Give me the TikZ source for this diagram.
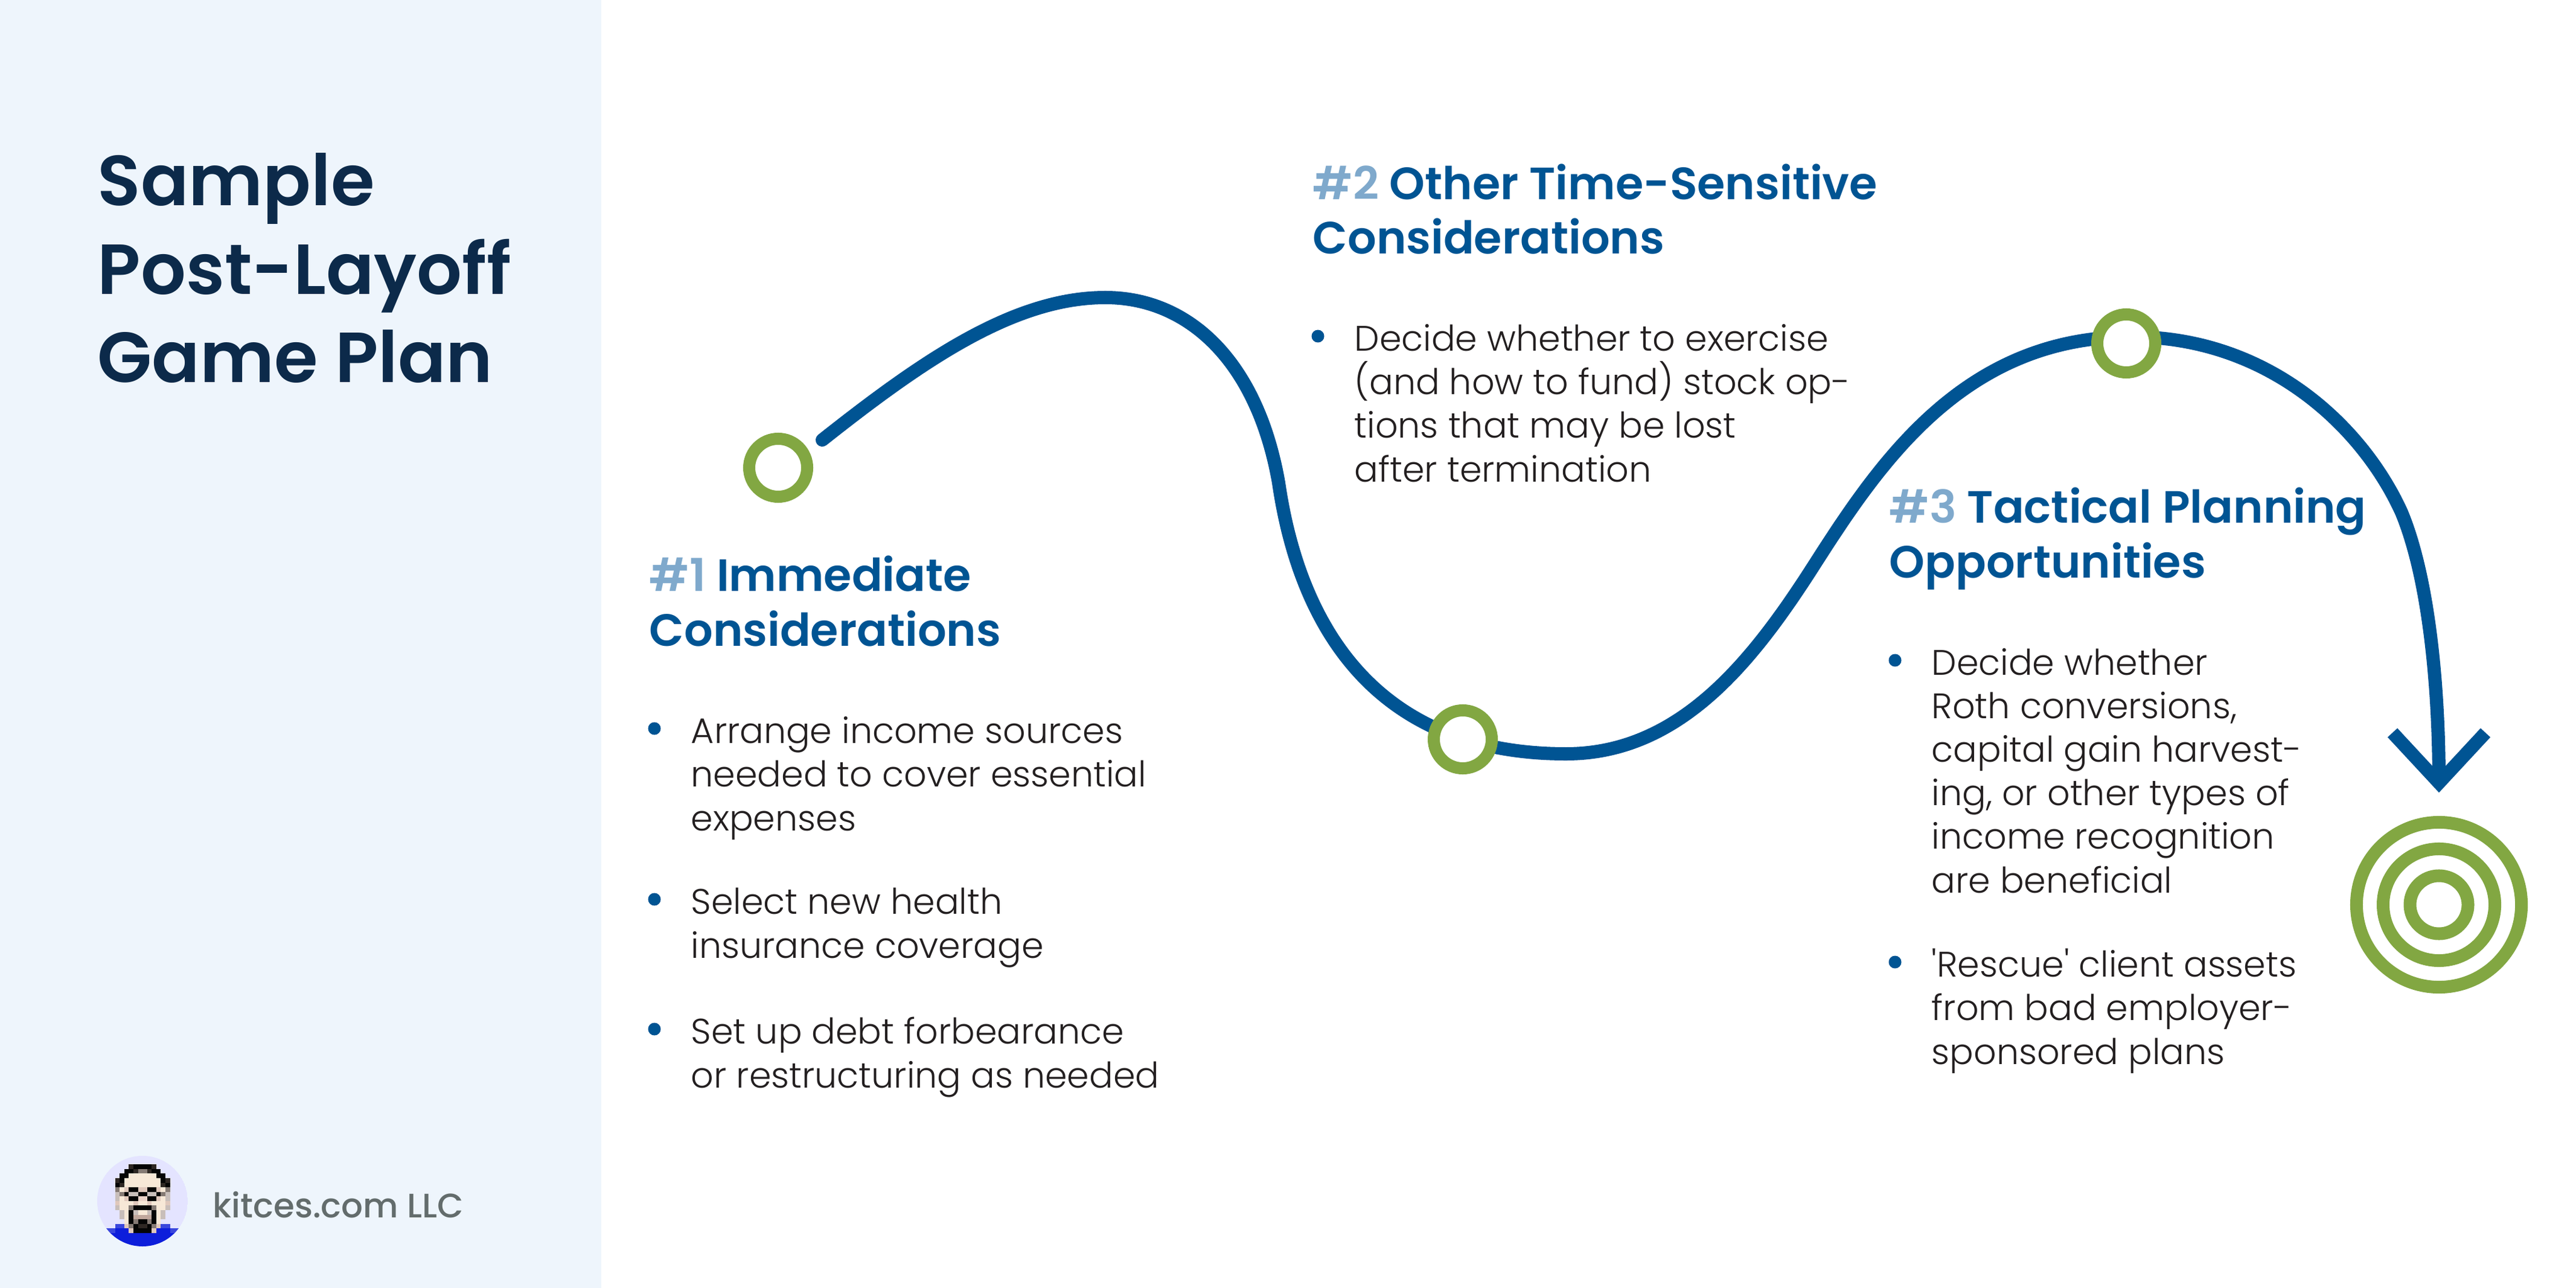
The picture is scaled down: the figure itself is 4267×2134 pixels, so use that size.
\documentclass[tikz,border=0pt]{standalone}
\usepackage{fontspec}
\setmainfont{Poppins}
\newfontfamily\lightfont{Poppins Light}
\newfontfamily\mediumfont{Poppins Medium}
\newfontfamily\semifont{Poppins SemiBold}
\definecolor{panelbg}{HTML}{EEF5FC}
\definecolor{titleblue}{HTML}{0C2A4A}
\definecolor{pathblue}{HTML}{005493}
\definecolor{numblue}{HTML}{7FA9CC}
\definecolor{ringgreen}{HTML}{82A742}
\definecolor{bodytext}{HTML}{231F20}
\definecolor{footgray}{HTML}{636C6C}
\definecolor{avbg}{HTML}{E4E4FF}
\definecolor{avskin}{HTML}{F7E8D7}
\definecolor{avblack}{HTML}{050505}
\definecolor{avdark}{HTML}{2E2723}
\definecolor{avgray}{HTML}{857A74}
\definecolor{avlight}{HTML}{C8BEBA}
\definecolor{avpink}{HTML}{E0C8BC}
\definecolor{avblush}{HTML}{EAD2C8}
\definecolor{avtan}{HTML}{C0A79C}
\definecolor{avshirt}{HTML}{0D1EDB}
\definecolor{avshirtb}{HTML}{3A47DD}
\tikzset{
  titletext/.style={font=\semifont\fontsize{33.4}{41.8}\selectfont,text=titleblue,align=left,anchor=base west,inner sep=0},
  headtext/.style={font=\semifont\fontsize{21.3}{25.6}\selectfont,text=pathblue,align=left,anchor=base west,inner sep=0},
  itemtext/.style={font=\lightfont\fontsize{16.7}{20.5}\selectfont,text=bodytext,align=left,anchor=base west,inner sep=0},
  bulletdot/.style={circle,fill=pathblue,minimum size=0.21cm,inner sep=0},
  stopring/.style={circle,draw=ringgreen,line width=0.2cm,fill=white,minimum size=0.96cm,inner sep=0,outer sep=0},
  targetring/.style={circle,draw=ringgreen,line width=0.21cm,inner sep=0,outer sep=0},
  trail/.style={draw=pathblue,line width=0.22cm},
}
\newcommand{\px}[4]{\fill[#4] (#2,#1) rectangle (#3+1,#1+1);}
\begin{document}
\begin{tikzpicture}[x=0.01cm,y=-0.01cm]
\useasboundingbox (0,0) rectangle (4267,2134);
\fill[white] (0,0) rectangle (4267,2134);
\fill[panelbg] (0,0) rectangle (996,2134);
\node[titletext] (title) at (161,634) {Sample\\Post-Layoff\\Game Plan};
% the trail
\coordinate (trailstart) at (1362,729);
\coordinate (trailpeak) at (1831,493);
\coordinate (trailbend) at (2118,800);
\coordinate (trailmid) at (2594,1249);
\coordinate (trailrise) at (3002,941);
\coordinate (trailtop) at (3530,558);
\coordinate (trailfall) at (3978,849);
\coordinate (tipend) at (4040,1297);
\coordinate (wingleft) at (3963,1214);
\coordinate (wingright) at (4117,1214);
\draw[trail,line cap=round] (trailstart) .. controls (1530,596) and (1680,493) .. (trailpeak)
  .. controls (1970,493) and (2083,600) .. (trailbend)
  .. controls (2153,1040) and (2280,1249) .. (trailmid)
  .. controls (2780,1249) and (2900,1100) .. (trailrise)
  .. controls (3110,772) and (3250,558) .. (trailtop)
  .. controls (3760,558) and (3915,710) .. (trailfall)
  .. controls (4020,950) and (4040,1120) .. (tipend);
\draw[trail] (wingleft) -- (tipend) -- (wingright);
\node[stopring] (stop1) at (1289,775) {};
\node[stopring] (stop2) at (2423,1225) {};
\node[stopring] (stop3) at (3522,569) {};
\node[targetring,minimum size=2.73cm] (target1) at (4040,1499) {};
\node[targetring,minimum size=1.85cm] (target2) at (4040,1499) {};
\node[targetring,minimum size=0.96cm] (target3) at (4040,1499) {};
% first list
\node[headtext] (head1) at (1075,1070) {{\color{numblue}\#1} Immediate\\Considerations};
\node[bulletdot] (dot1a) at (1084,1207) {};
\node[itemtext] (item1a) at (1144,1376) {Arrange income sources\\needed to cover essential\\expenses};
\node[bulletdot] (dot1b) at (1084,1490) {};
\node[itemtext] (item1b) at (1144,1587) {Select new health\\insurance coverage};
\node[bulletdot] (dot1c) at (1084,1705) {};
\node[itemtext] (item1c) at (1144,1802) {Set up debt forbearance\\or restructuring as needed};
% second list
\node[headtext] (head2) at (2174,421) {{\color{numblue}\#2} Other Time-Sensitive\\Considerations};
\node[bulletdot] (dot2a) at (2183,557) {};
\node[itemtext] (item2a) at (2243,798) {Decide whether to exercise\\(and how to fund) stock op-\\tions that may be lost\\after termination};
% third list
\node[headtext] (head3) at (3129,957) {{\color{numblue}\#3} Tactical Planning\\Opportunities};
\node[bulletdot] (dot3a) at (3139,1094) {};
\node[itemtext] (item3a) at (3199,1479) {Decide whether\\Roth conversions,\\capital gain harvest-\\ing, or other types of\\income recognition\\are beneficial};
\node[bulletdot] (dot3b) at (3139,1594) {};
\node[itemtext] (item3b) at (3199,1763) {'Rescue' client assets\\from bad employer-\\sponsored plans};
% footer
\node[font=\mediumfont\fontsize{16}{18}\selectfont,text=footgray,anchor=base west,inner sep=0] (brand) at (352,2017) {kitces.com LLC};
\begin{scope}
\clip (236,1990) circle [radius=75];
\fill[avbg] (236,1990) circle [radius=75];
\begin{scope}[shift={(190.7,1929.3)},x=0.0757cm,y=-0.0757cm]
\px{0}{3}{3}{avdark}\px{0}{4}{7}{avblack}\px{0}{8}{8}{avdark}
\px{1}{2}{3}{avblack}\px{1}{4}{4}{avdark}\px{1}{5}{6}{avgray}\px{1}{7}{7}{avdark}\px{1}{8}{9}{avblack}
\px{2}{1}{2}{avblack}\px{2}{3}{8}{avskin}\px{2}{9}{10}{avblack}
\px{3}{0}{0}{avdark}\px{3}{1}{1}{avblack}\px{3}{2}{9}{avskin}\px{3}{10}{10}{avblack}\px{3}{11}{11}{avdark}
\px{4}{0}{0}{avblack}\px{4}{1}{1}{avdark}\px{4}{2}{9}{avskin}\px{4}{10}{10}{avdark}\px{4}{11}{11}{avblack}
\px{5}{0}{0}{avgray}\px{5}{1}{1}{avskin}\px{5}{2}{2}{avpink}\px{5}{3}{4}{avblack}\px{5}{5}{6}{avpink}\px{5}{7}{8}{avblack}\px{5}{9}{9}{avpink}\px{5}{10}{10}{avskin}\px{5}{11}{11}{avgray}
\px{6}{0}{0}{avlight}\px{6}{1}{1}{avgray}\px{6}{2}{2}{avblack}\px{6}{3}{4}{avlight}\px{6}{5}{6}{avblack}\px{6}{7}{8}{avlight}\px{6}{9}{9}{avblack}\px{6}{10}{10}{avgray}\px{6}{11}{11}{avlight}
\px{7}{0}{0}{avlight}\px{7}{1}{1}{avskin}\px{7}{2}{2}{avpink}\px{7}{3}{4}{avblack}\px{7}{5}{6}{avblush}\px{7}{7}{8}{avblack}\px{7}{9}{9}{avpink}\px{7}{10}{10}{avskin}\px{7}{11}{11}{avlight}
\px{8}{0}{0}{avpink}\px{8}{1}{3}{avskin}\px{8}{4}{4}{avpink}\px{8}{5}{6}{avskin}\px{8}{7}{7}{avpink}\px{8}{8}{10}{avskin}\px{8}{11}{11}{avpink}
\px{9}{0}{0}{avlight}\px{9}{1}{2}{avskin}\px{9}{3}{3}{avgray}\px{9}{4}{7}{avblack}\px{9}{8}{8}{avgray}\px{9}{9}{10}{avskin}\px{9}{11}{11}{avlight}
\px{10}{1}{1}{avlight}\px{10}{2}{2}{avskin}\px{10}{3}{3}{avblack}\px{10}{4}{4}{avlight}\px{10}{5}{6}{avskin}\px{10}{7}{7}{avlight}\px{10}{8}{8}{avblack}\px{10}{9}{9}{avskin}\px{10}{10}{10}{avlight}
\px{11}{1}{1}{avlight}\px{11}{2}{2}{avskin}\px{11}{3}{3}{avblack}\px{11}{4}{7}{avtan}\px{11}{8}{8}{avblack}\px{11}{9}{9}{avskin}\px{11}{10}{10}{avlight}
\px{12}{2}{2}{avskin}\px{12}{3}{3}{avblack}\px{12}{4}{4}{avgray}\px{12}{5}{6}{avblack}\px{12}{7}{7}{avgray}\px{12}{8}{8}{avblack}\px{12}{9}{9}{avskin}
\px{13}{0}{1}{avshirtb}\px{13}{2}{2}{avpink}\px{13}{3}{3}{avgray}\px{13}{4}{4}{avblack}\px{13}{5}{6}{avdark}\px{13}{7}{7}{avblack}\px{13}{8}{8}{avgray}\px{13}{9}{9}{avpink}\px{13}{10}{11}{avshirtb}
\px{14}{-3}{-1}{avshirtb}\px{14}{0}{2}{avshirt}\px{14}{3}{3}{avpink}\px{14}{4}{7}{avblack}\px{14}{8}{8}{avpink}\px{14}{9}{11}{avshirt}\px{14}{12}{14}{avshirtb}
\foreach \rw in {15,...,18} {\px{\rw}{-3}{14}{avshirt}}
\end{scope}
\end{scope}
\node[circle,minimum size=1.5cm,inner sep=0] (avatar) at (236,1990) {};
\end{tikzpicture}
\end{document}
